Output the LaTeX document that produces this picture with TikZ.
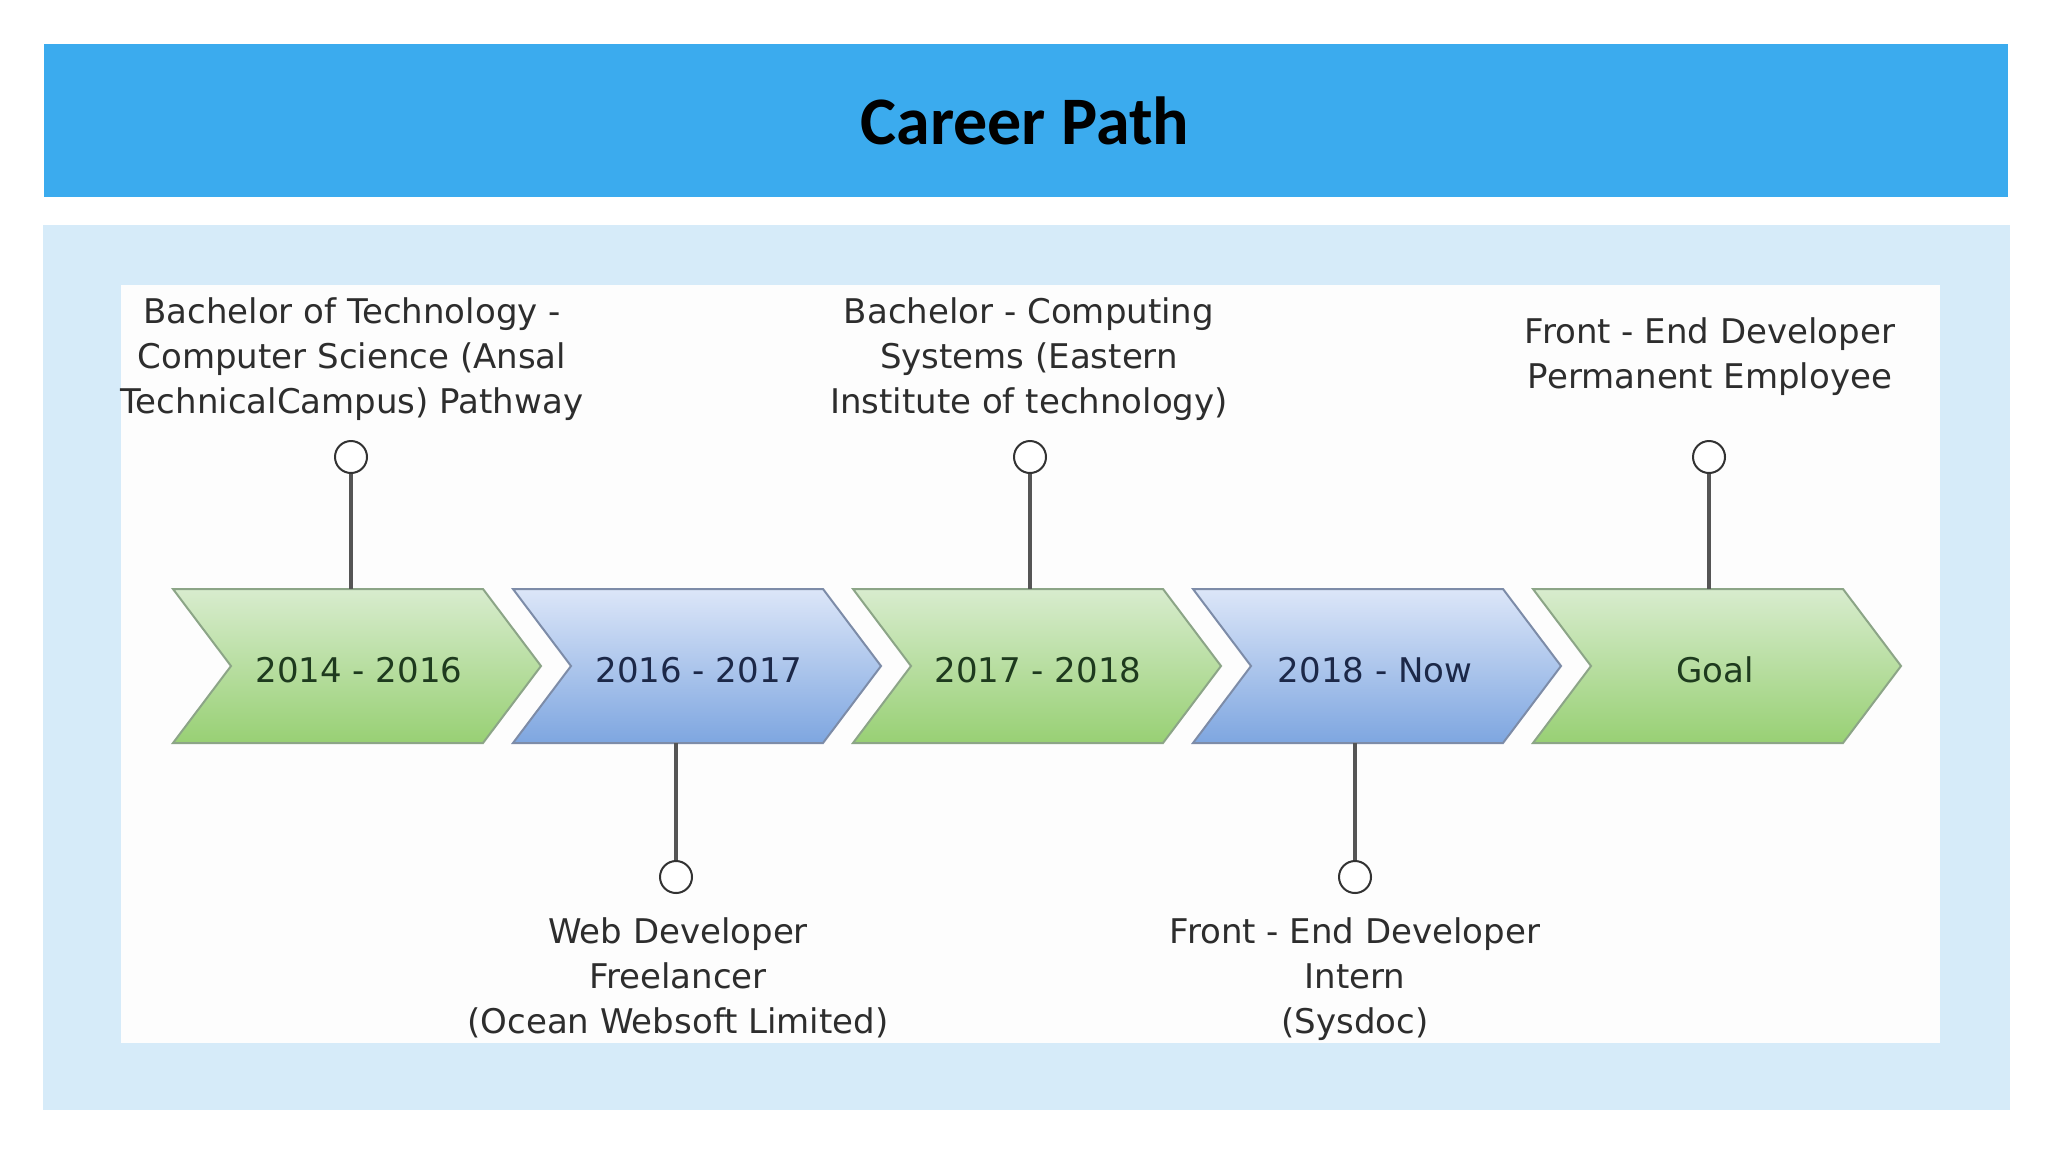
\documentclass[tikz,border=0pt]{standalone}
\usepackage{fontspec}
\newfontfamily\lblfont{DejaVu Sans}
\newfontfamily\ttlfont{Carlito}
\definecolor{hdrblue}{RGB}{59,171,238}
\definecolor{panel}{RGB}{214,235,249}
\definecolor{inner}{RGB}{253,253,253}
\definecolor{gtop}{RGB}{216,236,206}
\definecolor{gbot}{RGB}{152,208,116}
\definecolor{gedge}{RGB}{140,165,135}
\definecolor{btop}{RGB}{220,230,248}
\definecolor{bbot}{RGB}{126,166,224}
\definecolor{bedge}{RGB}{125,140,168}
\definecolor{gtext}{RGB}{30,58,30}
\definecolor{btext}{RGB}{28,40,72}
\definecolor{lbltext}{RGB}{45,45,45}
\definecolor{stemc}{RGB}{85,85,85}
\definecolor{knobc}{RGB}{50,50,50}
\begin{document}
\begin{tikzpicture}[x=0.5pt,y=-0.5pt,
  lbl/.style={font=\lblfont\fontsize{17}{22.5}\selectfont, text=lbltext, align=center, anchor=base, inner sep=0pt},
  yr/.style={font=\lblfont\fontsize{17}{20}\selectfont, anchor=base, inner sep=0pt},
  greenchev/.style={top color=gtop, bottom color=gbot, draw=gedge, line width=1pt, line join=miter},
  bluechev/.style={top color=btop, bottom color=bbot, draw=bedge, line width=1pt, line join=miter},
  stem/.style={draw=stemc, line width=1.75pt},
  knob/.style={circle, draw=knobc, fill=white, line width=1pt, minimum size=16pt, inner sep=0pt}]
\useasboundingbox (0,0) rectangle (2048,1152);
\fill[white] (0,0) rectangle (2048,1152);
% header
\fill[hdrblue] (44,44) rectangle (2008,197);
\node[font=\ttlfont\bfseries\fontsize{34}{40}\selectfont, anchor=base, inner sep=0pt] (title) at (1025,144) {Career Path};
% panel
\fill[panel] (43,225) rectangle (2010,1110);
\fill[inner] (121,285) rectangle (1940,1043);
% chevrons
\shade[greenchev] (173,589) -- (483,589) -- (541,666) -- (483,743) -- (173,743) -- (231,666) -- cycle;
\shade[bluechev] (513,589) -- (823,589) -- (881,666) -- (823,743) -- (513,743) -- (571,666) -- cycle;
\shade[greenchev] (853,589) -- (1163,589) -- (1221,666) -- (1163,743) -- (853,743) -- (911,666) -- cycle;
\shade[bluechev] (1193,589) -- (1503,589) -- (1561,666) -- (1503,743) -- (1193,743) -- (1251,666) -- cycle;
\shade[greenchev] (1533,589) -- (1843,589) -- (1901,666) -- (1843,743) -- (1533,743) -- (1591,666) -- cycle;
\coordinate (t1) at (173,589);
\coordinate (b2) at (513,743);
\coordinate (t3) at (853,589);
\coordinate (b4) at (1193,743);
\coordinate (t5) at (1533,589);
\node[yr, text=gtext] (c1) at (359,682) {2014 - 2016};
\node[yr, text=btext] (c2) at (699,682) {2016 - 2017};
\node[yr, text=gtext] (c3) at (1038,682) {2017 - 2018};
\node[yr, text=btext] (c4) at (1375,682) {2018 - Now};
\node[yr, text=gtext] (c5) at (1715,682) {Goal};
% knobs
\node[knob] (k1) at (351,457) {};
\node[knob] (k2) at (676,877) {};
\node[knob] (k3) at (1030,457) {};
\node[knob] (k4) at (1355,877) {};
\node[knob] (k5) at (1709,457) {};
\draw[stem] (k1) -- (k1 |- t1);
\draw[stem] (k2) -- (k2 |- b2);
\draw[stem] (k3) -- (k3 |- t3);
\draw[stem] (k4) -- (k4 |- b4);
\draw[stem] (k5) -- (k5 |- t5);
% labels (base = baseline of last line)
\node[lbl] (l1) at (352,413) {Bachelor of Technology -\\Computer Science (Ansal\\TechnicalCampus) Pathway};
\node[lbl] (l3) at (1029,413) {Bachelor - Computing\\Systems (Eastern\\Institute of technology)};
\node[lbl] (l5) at (1710,388) {Front - End Developer\\Permanent Employee};
\node[lbl] (l2) at (678,1033) {Web Developer\\Freelancer\\(Ocean Websoft Limited)};
\node[lbl] (l4) at (1355,1033) {Front - End Developer\\Intern\\(Sysdoc)};
\end{tikzpicture}
\end{document}
